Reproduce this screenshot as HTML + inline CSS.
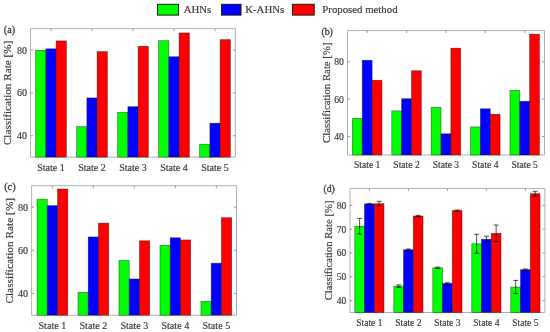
<!DOCTYPE html>
<html><head><meta charset="utf-8"><style>
html,body{margin:0;padding:0;background:#fff;}
body{width:550px;height:332px;overflow:hidden;}
svg{display:block;}
text{font-family:'Liberation Serif', 'Times New Roman', serif;fill:#3a3a3a;stroke:#3a3a3a;stroke-width:0.18px;}
</style></head><body>
<svg width="550" height="332" viewBox="0 0 550 332">
<rect width="550" height="332" fill="#fff"/>
<path d="M30.5 28.6H235.4V157.1H30.5Z" fill="none" stroke="#b2b2b2" stroke-width="1"/>
<path d="M51 157.1v-2.5M51 28.6v2.5M92 157.1v-2.5M92 28.6v2.5M133 157.1v-2.5M133 28.6v2.5M174 157.1v-2.5M174 28.6v2.5M215 157.1v-2.5M215 28.6v2.5M30.5 135.77h2.5M235.4 135.77h-2.5M30.5 92.9h2.5M235.4 92.9h-2.5M30.5 50.03h2.5M235.4 50.03h-2.5" stroke="#8c8c8c" stroke-width="0.9" fill="none"/>
<g stroke="rgba(0,0,0,0.5)" stroke-width="0.7"><rect x="35.62" y="50.33" width="10.25" height="106.77" fill="#00ff00"/><rect x="45.88" y="48.83" width="10.25" height="108.27" fill="#0000ff"/><rect x="56.12" y="40.9" width="10.25" height="116.2" fill="#ff0000"/><rect x="76.62" y="126.64" width="10.25" height="30.46" fill="#00ff00"/><rect x="86.88" y="97.92" width="10.25" height="59.18" fill="#0000ff"/><rect x="97.12" y="51.62" width="10.25" height="105.48" fill="#ff0000"/><rect x="117.62" y="112.28" width="10.25" height="44.82" fill="#00ff00"/><rect x="127.88" y="106.7" width="10.25" height="50.4" fill="#0000ff"/><rect x="138.12" y="46.26" width="10.25" height="110.84" fill="#ff0000"/><rect x="158.62" y="40.69" width="10.25" height="116.41" fill="#00ff00"/><rect x="168.88" y="56.76" width="10.25" height="100.34" fill="#0000ff"/><rect x="179.12" y="32.97" width="10.25" height="124.13" fill="#ff0000"/><rect x="199.62" y="144.21" width="10.25" height="12.89" fill="#00ff00"/><rect x="209.88" y="123.21" width="10.25" height="33.89" fill="#0000ff"/><rect x="220.12" y="39.62" width="10.25" height="117.48" fill="#ff0000"/></g>
<text x="51" y="171.2" text-anchor="middle" font-size="10">State 1</text>
<text x="92" y="171.2" text-anchor="middle" font-size="10">State 2</text>
<text x="133" y="171.2" text-anchor="middle" font-size="10">State 3</text>
<text x="174" y="171.2" text-anchor="middle" font-size="10">State 4</text>
<text x="215" y="171.2" text-anchor="middle" font-size="10">State 5</text>
<text x="26.9" y="139.27" text-anchor="end" font-size="10">40</text>
<text x="26.9" y="96.4" text-anchor="end" font-size="10">60</text>
<text x="26.9" y="53.53" text-anchor="end" font-size="10">80</text>
<text transform="translate(11.2 92.9) rotate(-90)" text-anchor="middle" font-size="11.2">Classification Rate [%]</text>
<text x="3.8" y="32.6" font-size="10.2" style="stroke-width:0.3px">(a)</text>
<path d="M347.5 30.6H544.5V155H347.5Z" fill="none" stroke="#b2b2b2" stroke-width="1"/>
<path d="M367.19 155v-2.4M367.19 30.6v2.4M406.57 155v-2.4M406.57 30.6v2.4M445.95 155v-2.4M445.95 30.6v2.4M485.33 155v-2.4M485.33 30.6v2.4M524.71 155v-2.4M524.71 30.6v2.4M347.5 136.51h2.4M544.5 136.51h-2.4M347.5 99.19h2.4M544.5 99.19h-2.4M347.5 61.86h2.4M544.5 61.86h-2.4" stroke="#8c8c8c" stroke-width="0.9" fill="none"/>
<g stroke="rgba(0,0,0,0.5)" stroke-width="0.7"><rect x="352.42" y="118.32" width="9.84" height="36.68" fill="#00ff00"/><rect x="362.27" y="60.29" width="9.84" height="94.71" fill="#0000ff"/><rect x="372.11" y="80.25" width="9.84" height="74.75" fill="#ff0000"/><rect x="391.8" y="110.86" width="9.84" height="44.14" fill="#00ff00"/><rect x="401.65" y="98.73" width="9.84" height="56.27" fill="#0000ff"/><rect x="411.49" y="70.74" width="9.84" height="84.26" fill="#ff0000"/><rect x="431.18" y="107.31" width="9.84" height="47.69" fill="#00ff00"/><rect x="441.03" y="133.81" width="9.84" height="21.19" fill="#0000ff"/><rect x="450.87" y="48.16" width="9.84" height="106.84" fill="#ff0000"/><rect x="470.56" y="126.91" width="9.84" height="28.09" fill="#00ff00"/><rect x="480.41" y="108.81" width="9.84" height="46.19" fill="#0000ff"/><rect x="490.25" y="114.22" width="9.84" height="40.78" fill="#ff0000"/><rect x="509.94" y="90.33" width="9.84" height="64.67" fill="#00ff00"/><rect x="519.79" y="101.34" width="9.84" height="53.66" fill="#0000ff"/><rect x="529.63" y="34.16" width="9.84" height="120.84" fill="#ff0000"/></g>
<text x="367.19" y="168.27" text-anchor="middle" font-size="9.62">State 1</text>
<text x="406.57" y="168.27" text-anchor="middle" font-size="9.62">State 2</text>
<text x="445.95" y="168.27" text-anchor="middle" font-size="9.62">State 3</text>
<text x="485.33" y="168.27" text-anchor="middle" font-size="9.62">State 4</text>
<text x="524.71" y="168.27" text-anchor="middle" font-size="9.62">State 5</text>
<text x="343.9" y="139.88" text-anchor="end" font-size="9.62">40</text>
<text x="343.9" y="102.56" text-anchor="end" font-size="9.62">60</text>
<text x="343.9" y="65.23" text-anchor="end" font-size="9.62">80</text>
<text transform="translate(329.5 92.75) rotate(-90)" text-anchor="middle" font-size="10.77">Classification Rate [%]</text>
<text x="321.4" y="34.6" font-size="9.81" style="stroke-width:0.3px">(b)</text>
<path d="M31.6 185.7H236.5V315.2H31.6Z" fill="none" stroke="#b2b2b2" stroke-width="1"/>
<path d="M52.39 315.2v-2.53M52.39 185.7v2.53M93.37 315.2v-2.53M93.37 185.7v2.53M134.35 315.2v-2.53M134.35 185.7v2.53M175.33 315.2v-2.53M175.33 185.7v2.53M216.31 315.2v-2.53M216.31 185.7v2.53M31.6 293.43h2.53M236.5 293.43h-2.53M31.6 250.3h2.53M236.5 250.3h-2.53M31.6 207.17h2.53M236.5 207.17h-2.53" stroke="#8c8c8c" stroke-width="0.9" fill="none"/>
<g stroke="rgba(0,0,0,0.5)" stroke-width="0.7"><rect x="37.02" y="199.19" width="10.25" height="116.01" fill="#00ff00"/><rect x="47.27" y="205.66" width="10.25" height="109.54" fill="#0000ff"/><rect x="57.51" y="189.05" width="10.25" height="126.15" fill="#ff0000"/><rect x="78" y="292.36" width="10.25" height="22.84" fill="#00ff00"/><rect x="88.25" y="236.93" width="10.25" height="78.27" fill="#0000ff"/><rect x="98.49" y="223.13" width="10.25" height="92.07" fill="#ff0000"/><rect x="118.98" y="260.44" width="10.25" height="54.76" fill="#00ff00"/><rect x="129.23" y="278.98" width="10.25" height="36.22" fill="#0000ff"/><rect x="139.47" y="240.81" width="10.25" height="74.39" fill="#ff0000"/><rect x="159.96" y="245.34" width="10.25" height="69.86" fill="#00ff00"/><rect x="170.21" y="237.79" width="10.25" height="77.41" fill="#0000ff"/><rect x="180.45" y="239.95" width="10.25" height="75.25" fill="#ff0000"/><rect x="200.94" y="301.41" width="10.25" height="13.79" fill="#00ff00"/><rect x="211.19" y="263.24" width="10.25" height="51.96" fill="#0000ff"/><rect x="221.43" y="217.73" width="10.25" height="97.47" fill="#ff0000"/></g>
<text x="52.39" y="329.17" text-anchor="middle" font-size="10.12">State 1</text>
<text x="93.37" y="329.17" text-anchor="middle" font-size="10.12">State 2</text>
<text x="134.35" y="329.17" text-anchor="middle" font-size="10.12">State 3</text>
<text x="175.33" y="329.17" text-anchor="middle" font-size="10.12">State 4</text>
<text x="216.31" y="329.17" text-anchor="middle" font-size="10.12">State 5</text>
<text x="28" y="296.98" text-anchor="end" font-size="10.12">40</text>
<text x="28" y="253.84" text-anchor="end" font-size="10.12">60</text>
<text x="28" y="210.71" text-anchor="end" font-size="10.12">80</text>
<text transform="translate(12.8 250.75) rotate(-90)" text-anchor="middle" font-size="11.33">Classification Rate [%]</text>
<text x="4.2" y="189.6" font-size="10.32" style="stroke-width:0.3px">(c)</text>
<path d="M350 188.5H544.9V312.5H350Z" fill="none" stroke="#b2b2b2" stroke-width="1"/>
<path d="M369.4 312.5v-2.39M369.4 188.5v2.39M408.4 312.5v-2.39M408.4 188.5v2.39M447.4 312.5v-2.39M447.4 188.5v2.39M486.4 312.5v-2.39M486.4 188.5v2.39M525.4 312.5v-2.39M525.4 188.5v2.39M350 300.41h2.39M544.9 300.41h-2.39M350 276.66h2.39M544.9 276.66h-2.39M350 252.91h2.39M544.9 252.91h-2.39M350 229.16h2.39M544.9 229.16h-2.39M350 205.41h2.39M544.9 205.41h-2.39" stroke="#8c8c8c" stroke-width="0.9" fill="none"/>
<g stroke="rgba(0,0,0,0.5)" stroke-width="0.7"><rect x="354.77" y="226.23" width="9.75" height="86.27" fill="#00ff00"/><rect x="364.52" y="203.91" width="9.75" height="108.59" fill="#0000ff"/><rect x="374.27" y="203.67" width="9.75" height="108.83" fill="#ff0000"/><rect x="393.77" y="286.08" width="9.75" height="26.42" fill="#00ff00"/><rect x="403.52" y="249.74" width="9.75" height="62.76" fill="#0000ff"/><rect x="413.27" y="216.02" width="9.75" height="96.48" fill="#ff0000"/><rect x="432.77" y="267.79" width="9.75" height="44.71" fill="#00ff00"/><rect x="442.52" y="283.47" width="9.75" height="29.03" fill="#0000ff"/><rect x="452.27" y="210.56" width="9.75" height="101.94" fill="#ff0000"/><rect x="471.77" y="243.81" width="9.75" height="68.69" fill="#00ff00"/><rect x="481.52" y="239.29" width="9.75" height="73.21" fill="#0000ff"/><rect x="491.27" y="233.36" width="9.75" height="79.14" fill="#ff0000"/><rect x="510.77" y="287.03" width="9.75" height="25.47" fill="#00ff00"/><rect x="520.52" y="269.69" width="9.75" height="42.81" fill="#0000ff"/><rect x="530.27" y="193.69" width="9.75" height="118.81" fill="#ff0000"/></g>
<path d="M359.65 218.39V234.07M357.21 218.39H362.09M357.21 234.07H362.09M369.4 203.43V204.38M366.96 203.43H371.84M366.96 204.38H371.84M379.15 201.29V206.04M376.71 201.29H381.59M376.71 206.04H381.59M398.65 284.89V287.27M396.21 284.89H401.09M396.21 287.27H401.09M408.4 249.03V250.46M405.96 249.03H410.84M405.96 250.46H410.84M418.15 215.31V216.73M415.71 215.31H420.59M415.71 216.73H420.59M437.65 267.08V268.51M435.21 267.08H440.09M435.21 268.51H440.09M447.4 282.76V284.18M444.96 282.76H449.84M444.96 284.18H449.84M457.15 210.08V211.03M454.71 210.08H459.59M454.71 211.03H459.59M476.65 234.31V253.31M474.21 234.31H479.09M474.21 253.31H479.09M486.4 236.21V242.38M483.96 236.21H488.84M483.96 242.38H488.84M496.15 225.04V241.67M493.71 225.04H498.59M493.71 241.67H498.59M515.65 280.38V293.68M513.21 280.38H518.09M513.21 293.68H518.09M525.4 268.98V270.41M522.96 268.98H527.84M522.96 270.41H527.84M535.15 191.32V196.07M532.71 191.32H537.59M532.71 196.07H537.59" stroke="#000" stroke-width="0.7" fill="none"/>
<text x="369.4" y="325.77" text-anchor="middle" font-size="9.55">State 1</text>
<text x="408.4" y="325.77" text-anchor="middle" font-size="9.55">State 2</text>
<text x="447.4" y="325.77" text-anchor="middle" font-size="9.55">State 3</text>
<text x="486.4" y="325.77" text-anchor="middle" font-size="9.55">State 4</text>
<text x="525.4" y="325.77" text-anchor="middle" font-size="9.55">State 5</text>
<text x="346.4" y="303.75" text-anchor="end" font-size="9.55">40</text>
<text x="346.4" y="280" text-anchor="end" font-size="9.55">50</text>
<text x="346.4" y="256.25" text-anchor="end" font-size="9.55">60</text>
<text x="346.4" y="232.5" text-anchor="end" font-size="9.55">70</text>
<text x="346.4" y="208.75" text-anchor="end" font-size="9.55">80</text>
<text transform="translate(331.8 250.4) rotate(-90)" text-anchor="middle" font-size="10.7">Classification Rate [%]</text>
<text x="323.4" y="191.6" font-size="9.74" style="stroke-width:0.3px">(d)</text>
<rect x="157.5" y="4.3" width="21" height="10.8" fill="#00ff00" stroke="#1a1a1a" stroke-width="1"/>
<text x="183.7" y="12.8" font-size="10.8">AHNs</text>
<rect x="221.5" y="4.3" width="19.5" height="10.8" fill="#0000ff" stroke="#1a1a1a" stroke-width="1"/>
<text x="245.2" y="12.8" font-size="10.8">K-AHNs</text>
<rect x="292.5" y="4.3" width="21.7" height="10.8" fill="#ff0000" stroke="#1a1a1a" stroke-width="1"/>
<text x="322.3" y="12.8" font-size="10.8">Proposed method</text>
</svg>
</body></html>
